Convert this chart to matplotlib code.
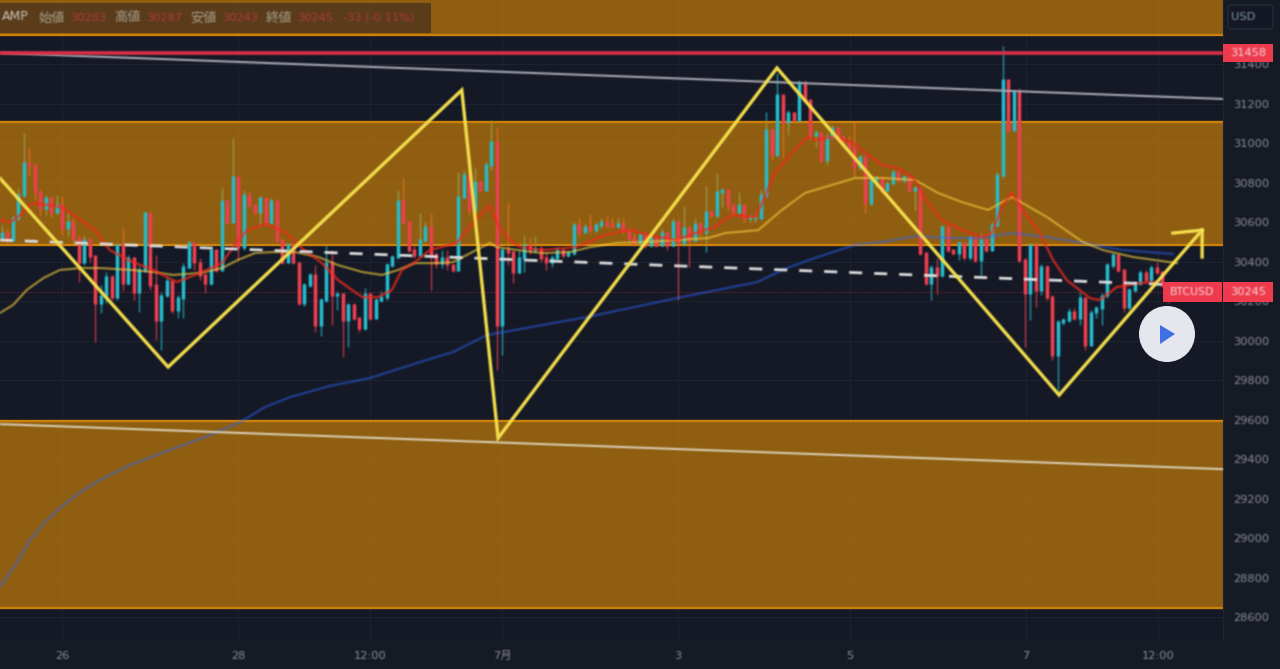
import numpy as np
import matplotlib
matplotlib.use('Agg')
import matplotlib.pyplot as plt
from matplotlib.patches import Rectangle, FancyBboxPatch, Circle, Polygon

plt.rcParams['font.family'] = ['DejaVu Sans', 'Noto Sans CJK JP']

# candles, one slot every 1.5 hours
closes = [
    30549, 30509, 30620, 30737, 30899, 30889, 30752, 30671, 30722, 30651,
    30686, 30570, 30600, 30519, 30397, 30509, 30428, 30190, 30230, 30322,
    30220, 30484, 30291, 30418, 30246, 30357, 30646, 30281, 30104, 30230,
    30306, 30154, 30215, 30372, 30494, 30397, 30332, 30291,
    30458, 30357, 30711, 30600, 30828, 30473, 30737, 30686, 30651, 30722,
    30600, 30711, 30509, 30397, 30484, 30397, 30190, 30281, 30332, 30079,
    30205, 30397, 30230, 30240, 30104, 30180, 30114, 30063, 30240, 30114,
    30205, 30220, 30382, 30423, 30711, 30600, 30458,
    30433, 30509, 30575, 30433, 30392, 30418, 30387, 30357, 30727, 30838,
    30661, 30803, 30762, 30889, 31005, 30079, 30458, 30448, 30347, 30418,
    30484, 30458, 30468, 30418, 30397, 30418, 30458, 30433, 30443, 30585,
    30549, 30575, 30559, 30585, 30600, 30585, 30580,
    30590, 30559, 30519, 30494, 30534, 30484, 30519, 30484, 30544, 30484,
    30600, 30494, 30570, 30509, 30590, 30549, 30651, 30635, 30752, 30762,
    30686, 30651, 30686, 30620, 30620, 30620, 30737, 31066, 30939, 31243,
    31106, 31152, 31116, 31299, 31218, 31040, 31051, 30914, 31030, 31076,
    31030, 31000, 30975, 30878, 30929, 30696, 30813, 30823, 30762, 30797,
    30853, 30813, 30828, 30762, 30772, 30443, 30291, 30367, 30332, 30575,
    30458, 30443, 30494, 30423, 30519, 30408, 30509, 30458, 30585, 30838,
    31319, 31066, 31258, 30408, 30240, 30484, 30256, 30372, 30220, 29927,
    30094, 30104, 30149, 30114, 30215, 29977, 30144, 30165, 30230, 30382,
    30433, 30357, 30170, 30256, 30291, 30342, 30306, 30367, 30347, 30281,
    30256, 30245,
]
highs = [
    30585, 30570, 30635, 30772, 31051, 30980, 30889, 30762, 30737, 30727,
    30737, 30732, 30651, 30620, 30529, 30534, 30519, 30382, 30281, 30347,
    30332, 30494, 30570, 30433, 30423, 30377, 30651, 30433, 30433, 30246,
    30322, 30296, 30230, 30392, 30504, 30494, 30418, 30347,
    30468, 30458, 30772, 30711, 31025, 30813, 30762, 30752, 30686, 30732,
    30722, 30722, 30711, 30519, 30494, 30484, 30397, 30291, 30342, 30382,
    30215, 30484, 30458, 30251, 30240, 30190, 30190, 30114, 30266, 30240,
    30215, 30251, 30392, 30433, 30762, 30823, 30600,
    30484, 30646, 30600, 30646, 30448, 30458, 30458, 30387, 30853, 30863,
    30863, 30873, 30803, 30904, 31116, 31081, 30468, 30696, 30458, 30458,
    30534, 30519, 30529, 30484, 30448, 30433, 30473, 30468, 30458, 30600,
    30620, 30590, 30640, 30600, 30620, 30630, 30620,
    30620, 30620, 30570, 30544, 30549, 30549, 30534, 30519, 30570, 30549,
    30620, 30610, 30681, 30580, 30620, 30600, 30782, 30661, 30848, 30772,
    30762, 30686, 30752, 30686, 30635, 30640, 30762, 31157, 31066, 31354,
    31233, 31167, 31157, 31319, 31319, 31218, 31066, 31051, 31051, 31091,
    31076, 31040, 31040, 31106, 30939, 30939, 30823, 30833, 30823, 30808,
    30863, 30853, 30838, 30828, 30782, 30772, 30443, 30382, 30418, 30585,
    30580, 30458, 30504, 30494, 30534, 30519, 30544, 30519, 30600, 30853,
    31491, 31319, 31268, 31278, 30418, 30494, 30494, 30387, 30382, 30230,
    30104, 30114, 30165, 30165, 30246, 30215, 30154, 30175, 30240, 30392,
    30443, 30433, 30357, 30266, 30301, 30357, 30357, 30382, 30397, 30347,
    30281, 30266,
]
lows = [
    30509, 30494, 30504, 30610, 30727, 30838, 30711, 30635, 30635, 30620,
    30640, 30534, 30529, 30484, 30296, 30382, 30397, 29992, 30139, 30190,
    30205, 30205, 30251, 30281, 30205, 30144, 30347, 30256, 30003, 29952,
    30220, 30139, 30114, 30114, 30367, 30357, 30306, 30240,
    30281, 30347, 30372, 30590, 30600, 30408, 30458, 30676, 30640, 30585,
    30585, 30590, 30499, 30387, 30397, 30387, 30180, 30175, 30271, 30043,
    30023, 30195, 30079, 30154, 29917, 29967, 30104, 30043, 30053, 30104,
    30114, 30195, 30205, 30372, 30418, 30590, 30448,
    30418, 30433, 30499, 30256, 30367, 30367, 30357, 30347, 30357, 30722,
    30635, 30651, 30762, 30762, 30863, 29851, 29927, 30382, 30291, 30342,
    30347, 30438, 30448, 30397, 30357, 30372, 30408, 30418, 30423, 30433,
    30529, 30549, 30549, 30549, 30570, 30570, 30570,
    30570, 30539, 30499, 30478, 30478, 30468, 30473, 30473, 30478, 30458,
    30478, 30205, 30478, 30372, 30504, 30529, 30448, 30620, 30620, 30676,
    30661, 30630, 30640, 30600, 30600, 30600, 30646, 30727, 30914, 30939,
    30924, 31040, 31106, 31116, 31208, 31015, 30980, 30904, 30889, 31025,
    31015, 30990, 30965, 30828, 30863, 30646, 30686, 30777, 30752, 30752,
    30797, 30803, 30803, 30752, 30661, 30433, 30281, 30205, 30235, 30322,
    30448, 30438, 30408, 30408, 30408, 30397, 30327, 30448, 30458, 30580,
    30823, 31056, 31066, 30397, 29967, 30104, 30170, 30230, 30205, 29901,
    29734, 30079, 30094, 30104, 30079, 29952, 29977, 30114, 30079, 30215,
    30367, 30347, 30144, 30154, 30246, 30281, 30296, 30296, 30337, 30271,
    30190, 30215,
]

# moving averages, bar position and price
red_ma_x = [-0.4, 1.5, 3.3, 5.6, 10.9, 13.6, 16.9, 19.6, 23.8, 27.5, 31.8, 36, 40, 42.9, 44.7, 47.8, 51.5, 54.5,
            58.2, 61.1, 65.5, 68.4, 70.9, 72.7, 75.1, 77.8, 82.7, 84.5, 88.7, 90, 91.8, 94.2, 98.4, 104.5, 108.7,
            111.8, 114.5, 117.5, 122.5, 126, 129.6, 132.7, 136.9, 138.2, 140.5, 143.6, 146.4, 147.8, 150.9, 154.5,
            157.5, 160, 162.9, 165.6, 168.4, 170.9, 174.5, 178.2, 180, 181.8, 183.6, 185.6, 188.7, 191.1, 193.6,
            197.8, 199.6, 202.7, 206.9, 209.6]
red_ma = [30610, 30600, 30635, 30696, 30676, 30625, 30559, 30458, 30397, 30357, 30296, 30342, 30392, 30509, 30559,
          30590, 30549, 30468, 30392, 30306, 30220, 30220, 30256, 30357, 30397, 30458, 30494, 30559, 30686, 30595,
          30519, 30473, 30458, 30473, 30524, 30549, 30559, 30534, 30509, 30544, 30575, 30635, 30625, 30696, 30848,
          30949, 31030, 31015, 31030, 31005, 30939, 30889, 30873, 30828, 30696, 30610, 30559, 30524, 30544, 30676,
          30747, 30661, 30544, 30408, 30306, 30215, 30205, 30271, 30291, 30296]
gold_ma_x = [-0.4, 2, 4.5, 7.5, 10.5, 14.2, 17.8, 23.8, 27.5, 31.1, 36, 40, 42.9, 46, 49.1, 53.3, 57.5, 61.1, 65.5,
             69.1, 72, 75.1, 79, 82, 84.5, 88.7, 90, 96.5, 98.4, 103.3, 106.9, 111.8, 117.5, 122.5, 128.4, 131.5,
             137.5, 141.8, 146, 149.6, 155.1, 160, 166, 170.2, 174.5, 179.3, 183.6, 190, 196.5, 200.2, 205.6, 213.6]
gold_ma = [30139, 30180, 30256, 30316, 30357, 30367, 30367, 30357, 30347, 30332, 30342, 30367, 30408, 30443, 30448,
           30448, 30423, 30382, 30347, 30332, 30357, 30392, 30392, 30397, 30433, 30494, 30473, 30448, 30443, 30448,
           30473, 30494, 30499, 30509, 30519, 30544, 30559, 30661, 30747, 30777, 30823, 30823, 30813, 30747, 30701,
           30661, 30727, 30625, 30499, 30458, 30423, 30392]
blue_ma_x = [-0.4, 2.4, 5.1, 7.8, 10.5, 14.2, 17.8, 23.3, 30.5, 36.9, 43.3, 47.8, 52.4, 59.6, 66.9, 71.5, 76, 82,
             88.2, 106.4, 122.7, 137.3, 142.7, 147.8, 155.1, 160, 166, 172, 178.2, 183.6, 190, 196.5, 203.8, 212.9]
blue_ma = [28752, 28863, 28990, 29081, 29152, 29233, 29294, 29370, 29446, 29511, 29587, 29663, 29714, 29770, 29810,
           29851, 29891, 29942, 30028, 30119, 30215, 30296, 30367, 30418, 30484, 30499, 30529, 30519, 30519, 30544,
           30524, 30494, 30458, 30438]

# hand drawn bits
zigzag_x = [-0.4, 30.2, 83.6, 90.2, 140.9, 192.2, 218.2]
zigzag_y = [30823, 29866, 31268, 29506, 31380, 29724, 30559]
arrow_x = [212.9, 218.2, 218.2]
arrow_y = [30544, 30559, 30423]
upper_trend_x = [-0.4, 222]
upper_trend_y = [31456, 31223]
lower_trend_x = [-0.4, 222]
lower_trend_y = [29577, 29349]
dash_x = [-0.4, 214.2]
dash_y = [30509, 30281]
zones = [(31547, 31724), (30484, 31106), (28646, 29592)]
high_level = 31458
last_close = 30245

price_ticks = list(range(28600, 31401, 200))
time_ticks = [10.9, 42.9, 66.9, 90.9, 122.9, 154.2, 186.2, 210.2]
time_labels = ['26', '28', '12:00', '7月', '3', '5', '7', '12:00']


def soften(img, dpi):
    # the reference is a blown up screenshot, so everything is a bit soft
    pad = 5
    out = np.pad(img, ((pad, pad), (pad, pad), (0, 0)))
    alpha = out[..., 3:]
    out = np.concatenate((out[..., :3] * alpha, alpha), axis=2)
    for axis in (0, 1):
        out = sum(w * np.roll(out, s, axis=axis)
                  for s, w in zip((-1, 0, 1), (0.25, 0.5, 0.25)))
    alpha = out[..., 3:]
    rgb = out[..., :3] / np.maximum(alpha, 1e-4)
    return np.clip(np.concatenate((rgb, alpha), axis=2), 0, 1), -pad, -pad


bg = '#151925'
fig = plt.figure(figsize=(12.8, 6.69), dpi=100, facecolor='#161a25')
ax = fig.add_axes([0, 29 / 669, 1223 / 1280, 640 / 669], facecolor=bg)
ax.set_xlim(-0.36, 222)
ax.set_ylim(28484, 31724)

ax.set_yticks(price_ticks)
ax.yaxis.tick_right()
ax.set_xticks(time_ticks)
ax.set_xticklabels(time_labels)
ax.tick_params(length=0, colors='#8b8e97', labelsize=8.2)
ax.tick_params(axis='x', pad=8)
ax.tick_params(axis='y', pad=7)
ax.grid(color='#1d2230', lw=0.8)
ax.set_axisbelow(True)
for side in ('left', 'top', 'bottom'):
    ax.spines[side].set_visible(False)
ax.spines['right'].set_color('#20242f')

bars = np.arange(len(closes))
closes = np.array(closes)
opens = np.r_[closes[0] - 30, closes[:-1]]
up = closes >= opens
colors = np.where(up, '#25b9c9', '#ea3f50')
# wicks go under the zones, that is why they look washed out there
wicks = ax.vlines(bars, lows, highs, colors=colors, lw=1.0, alpha=0.75, zorder=1)
wicks.set_agg_filter(soften)

for lo, hi in zones:
    ax.axhspan(lo, hi, facecolor='#f59800', alpha=0.55, lw=0, zorder=2)
    ax.axhline(lo, color='#cc800a', lw=1.7, zorder=2.5)
    if hi < 31700:
        ax.axhline(hi, color='#cc800a', lw=1.7, zorder=2.5)

tops = np.maximum(opens, closes) + 3
bottoms = np.minimum(opens, closes) - 3
bodies = ax.vlines(bars, bottoms, tops, colors=colors, lw=2.5, zorder=3)
bodies.set_agg_filter(soften)

ax.axhline(last_close, color='#8a2230', lw=0.8, ls=(0, (1.5, 1.5)), alpha=0.7, zorder=2.6)

# low alpha on purpose, the blue turns grey over the orange zones
for x, y, c, a, lw in [(blue_ma_x, blue_ma, '#2d66ff', 0.45, 1.8),
                       (gold_ma_x, gold_ma, '#f0c93c', 0.62, 1.6),
                       (red_ma_x, red_ma, '#f02a1c', 0.72, 1.8)]:
    line, = ax.plot(x, y, color=c, alpha=a, lw=lw, zorder=4)
    line.set_agg_filter(soften)

for x, y, c in [(upper_trend_x, upper_trend_y, '#a5a7b0'), (lower_trend_x, lower_trend_y, '#d9cdb4')]:
    line, = ax.plot(x, y, color=c, lw=1.5, zorder=5)
    line.set_agg_filter(soften)
line, = ax.plot(dash_x, dash_y, color='#dcdcdc', lw=2.0, ls=(0, (4.7, 4.3)), zorder=5)
line.set_agg_filter(soften)
line = ax.axhline(high_level, color='#dc3049', lw=2.6, zorder=5)
line.set_agg_filter(soften)

for x, y in [(zigzag_x, zigzag_y), (arrow_x, arrow_y)]:
    line, = ax.plot(x, y, color='#f3de4c', lw=2.4, zorder=6, solid_joinstyle='miter')
    line.set_agg_filter(soften)

for t in ax.get_xticklabels() + ax.get_yticklabels():
    t.set_agg_filter(soften)

# overlay in screen pixels for the tags, legend and play button
ov = fig.add_axes([0, 0, 1, 1], zorder=10)
ov.set_xlim(0, 1280)
ov.set_ylim(669, 0)
ov.axis('off')


def put(x, y, s, color, ha='left', size=8.2):
    t = ov.text(x, y, s, color=color, fontsize=size, ha=ha, va='center')
    t.set_agg_filter(soften)
    return t


ov.add_patch(Rectangle((0, 3), 431, 30, facecolor='#5a3c1b', lw=0))
put(29, 16, 'AMP', '#c9c4ba', ha='right', size=9)
grey = '#a89f8c'
red = '#b5383a'
for x, label in [(38, '始値'), (114, '高値'), (190, '安値'), (266, '終値')]:
    put(x, 18, label, grey, size=9.5)
for x, label in [(70, '30283'), (146, '30287'), (222, '30243'), (297, '30245'), (343, '-33 (-0.11%)')]:
    put(x, 18, label, red)

ov.add_patch(FancyBboxPatch((1228, 5), 45, 24, boxstyle='round,pad=0,rounding_size=4',
                            facecolor='#141824', edgecolor='#262b38', lw=1))
put(1231, 17, 'USD', '#7f98a6')

tag = '#ee3a4d'
ov.add_patch(Rectangle((1223, 44), 50, 18, facecolor=tag, lw=0))
put(1248, 53, '31458', '#f5d8da', ha='center')
ov.add_patch(Rectangle((1163, 282), 59, 20, facecolor=tag, lw=0))
put(1192, 292, 'BTCUSD', '#f5d8da', ha='center', size=7.8)
ov.add_patch(Rectangle((1223, 282), 50, 20, facecolor=tag, lw=0))
put(1248, 292, '30245', '#f5d8da', ha='center')

ov.add_patch(Circle((1167, 334), 28, facecolor='#e6e6ee', lw=0))
ov.add_patch(Polygon([(1160, 325), (1160, 344), (1175, 334)], closed=True, facecolor='#3f6fe6', lw=0))

fig.savefig('out.png', dpi=100, facecolor=fig.get_facecolor())
